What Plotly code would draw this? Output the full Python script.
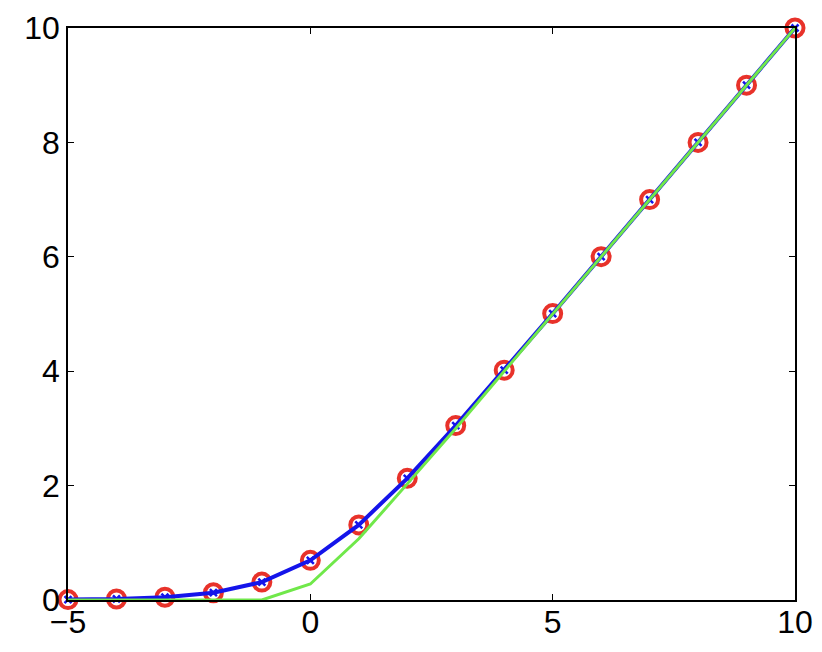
import plotly.graph_objects as go

x = [-5, -4, -3, -2, -1, 0, 1, 2, 3, 4, 5, 6, 7, 8, 9, 10]
softplus = [0.0067, 0.0181, 0.0486, 0.1269, 0.3133, 0.6931, 1.3133, 2.1269, 3.0486,
            4.0181, 5.0067, 6.0025, 7.0009, 8.0003, 9.0001, 10.0]
approx = [0.0, 0.0, 0.0, 0.0, 0.0, 0.28, 1.07, 2.03, 3.0, 4.0, 5.0, 6.0, 7.0, 8.0, 9.0, 10.0]

fig = go.Figure()
fig.add_trace(go.Scatter(x=x, y=softplus, mode="lines+markers",
                         line=dict(color="#e8322a", width=2),
                         marker=dict(symbol="circle-open", size=17, color="#e8322a",
                                     line=dict(width=4, color="#e8322a")),
                         cliponaxis=False))
fig.add_trace(go.Scatter(x=x, y=softplus, mode="lines+markers",
                         line=dict(color="#1414ea", width=4),
                         marker=dict(symbol="x-thin", size=7, color="#1414ea",
                                     line=dict(width=2.5, color="#1414ea")),
                         cliponaxis=False))
fig.add_trace(go.Scatter(x=x, y=approx, mode="lines",
                         line=dict(color="#70e84a", width=3),
                         cliponaxis=False))

axis_common = dict(showline=True, linecolor="black", linewidth=1.5, mirror="ticks",
                   ticks="inside", ticklen=6, tickwidth=1, tickcolor="black",
                   showgrid=False, zeroline=False, automargin=False,
                   tickfont=dict(family="Liberation Sans, Arial, sans-serif", size=32, color="black"))

fig.update_xaxes(range=[-5, 10], tickvals=[-5, 0, 5, 10], ticktext=["\u22125", "0", "5", "10"],
                 ticklabelstandoff=-7, **axis_common)
fig.update_yaxes(range=[0, 10], tickvals=[0, 2, 4, 6, 8, 10], **axis_common)

fig.update_layout(width=806, height=644, showlegend=False,
                  plot_bgcolor="white", paper_bgcolor="white",
                  margin=dict(l=60, r=19, t=20, b=52))

fig.write_html("out.html")
